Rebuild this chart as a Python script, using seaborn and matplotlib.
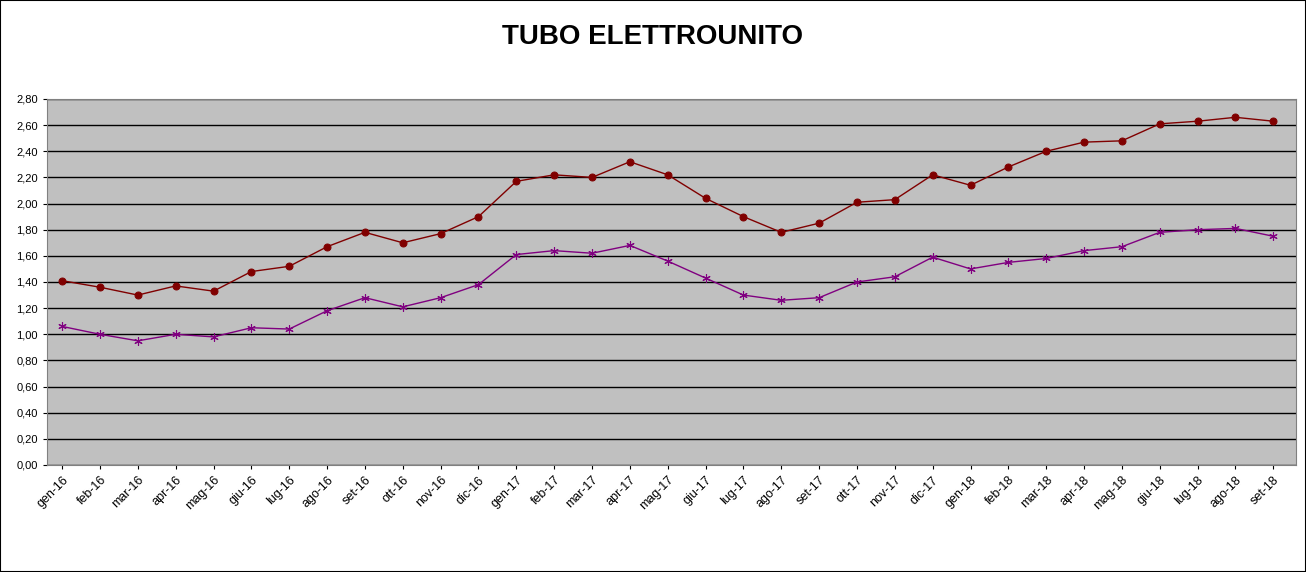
import matplotlib
matplotlib.use("Agg")
import matplotlib.pyplot as plt
import seaborn as sns
import pandas as pd

months = ["gen","feb","mar","apr","mag","giu","lug","ago","set","ott","nov","dic"]
labels = [f"{m}-{y}" for y in ["16","17","18"] for m in months][:33]
red = [1.41,1.36,1.30,1.37,1.33,1.48,1.52,1.67,1.78,1.70,1.77,1.90,2.17,2.22,2.20,2.32,2.22,2.04,1.90,1.78,1.85,2.01,2.03,2.22,2.14,2.28,2.40,2.47,2.48,2.61,2.63,2.66,2.63]
purple = [1.06,1.00,0.95,1.00,0.98,1.05,1.04,1.18,1.28,1.21,1.28,1.38,1.61,1.64,1.62,1.68,1.56,1.43,1.30,1.26,1.28,1.40,1.44,1.59,1.50,1.55,1.58,1.64,1.67,1.78,1.80,1.81,1.75]

df = pd.DataFrame({"x": range(len(labels)), "red": red, "purple": purple})
sns.set_style("white")
plt.rcParams['font.family'] = ['Liberation Sans', 'DejaVu Sans']
plt.rcParams['text.color'] = 'black'
plt.rcParams['xtick.color'] = 'black'
plt.rcParams['ytick.color'] = 'black'

fig = plt.figure(figsize=(13.06, 5.72), dpi=100)
fig.patches.append(plt.Rectangle((0, 0), 1, 1, transform=fig.transFigure, fill=False, edgecolor="black", lw=1.5))
ax = fig.add_axes([47/1306, 1-465/572, (1296-47)/1306, (465-99)/572])
ax.set_facecolor("#c0c0c0")
sns.lineplot(data=df, x="x", y="red", ax=ax, color="#800000", marker="o", markersize=5, markeredgecolor="#800000", lw=1)
sns.lineplot(data=df, x="x", y="purple", ax=ax, color="#800080", marker=(6, 2, 0), markersize=6, markeredgecolor="#800080", mew=0.8, lw=1)
ax.set_xlim(-0.4, 32.6)
ax.set_ylim(0, 2.8)
yt = [i*0.2 for i in range(15)]
ax.set_yticks(yt)
ax.set_yticklabels([f"{v:.2f}".replace(".", ",") for v in yt], fontsize=8)
ax.set_xticks(range(len(labels)))
ax.set_xticklabels(labels, rotation=45, ha="right", rotation_mode="anchor", fontsize=9)
ax.grid(axis="y", color="black", lw=1)
ax.set_axisbelow(True)
ax.tick_params(axis="both", length=3, direction="out", left=True, bottom=True, colors="black")
for s in ax.spines.values():
    s.set_color("#808080")
ax.set_xlabel("")
ax.set_ylabel("")
fig.text(0.5, 1-37/572, "TUBO ELETTROUNITO", ha="center", va="center", fontsize=20, fontweight="bold", color="black")
fig.savefig("out.png", dpi=100)
